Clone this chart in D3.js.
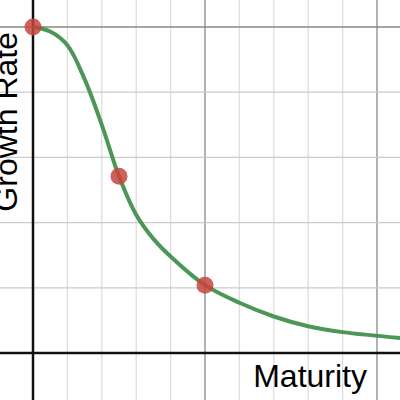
<!DOCTYPE html>
<html><head><meta charset="utf-8">
<script src="https://cdn.jsdelivr.net/npm/d3@7"></script>
<style>body{margin:0;background:#fff}</style>
</head><body>
<svg id="c" width="400" height="400"></svg>
<script>
// curve
const curveX = [0, 0.5, 1, 1.5, 2, 2.5, 3, 3.5, 4, 5, 6, 7, 8, 9, 10.7];
const curveY = [5, 4.93, 4.72, 4.2, 3.5, 2.71, 2.12, 1.75, 1.48, 1.04, 0.77, 0.56, 0.41, 0.32, 0.23];
const pointX = [0, 2.5, 5];
const pointY = [5, 2.71, 1.04];
const xTicks = d3.range(-1, 11);
const yTicks = d3.range(-1, 6);

const svg = d3.select('#c');
const x = d3.scaleLinear().domain([0, 10]).range([33, 377]);
const y = d3.scaleLinear().domain([0, 5]).range([353, 27]);

// grid
svg.selectAll('.gx').data(xTicks).join('line')
  .attr('x1', d => x(d)).attr('x2', d => x(d)).attr('y1', 0).attr('y2', 400)
  .attr('stroke', d => d % 5 === 0 ? '#888' : '#ddd').attr('stroke-width', 1.3);
svg.selectAll('.gy').data(yTicks).join('line')
  .attr('y1', d => y(d)).attr('y2', d => y(d)).attr('x1', 0).attr('x2', 400)
  .attr('stroke', d => d % 5 === 0 ? '#888' : '#ccc').attr('stroke-width', 1.3);

// axes
svg.append('line').attr('x1', x(0)).attr('x2', x(0)).attr('y1', 0).attr('y2', 400)
  .attr('stroke', '#111').attr('stroke-width', 2.5);
svg.append('line').attr('y1', y(0)).attr('y2', y(0)).attr('x1', 0).attr('x2', 400)
  .attr('stroke', '#111').attr('stroke-width', 2.5);

const line = d3.line().x((d, i) => x(curveX[i])).y(d => y(d)).curve(d3.curveCatmullRom);
svg.append('path').attr('d', line(curveY)).attr('fill', 'none')
  .attr('stroke', '#388c46').attr('stroke-width', 4).attr('opacity', 0.9);

svg.selectAll('.pt').data(pointY).join('circle')
  .attr('cx', (d, i) => x(pointX[i])).attr('cy', d => y(d)).attr('r', 8.5)
  .attr('fill', '#c74440').attr('opacity', 0.85);

svg.append('text').attr('x', 367).attr('y', 387).attr('text-anchor', 'end')
  .attr('font-family', 'Liberation Sans, Arial').attr('font-size', 32).text('Maturity');
svg.append('text').attr('transform', 'translate(17,32) rotate(-90)').attr('text-anchor', 'end')
  .attr('font-family', 'Liberation Sans, Arial').attr('font-size', 32).text('Growth Rate');
</script>
</body></html>
